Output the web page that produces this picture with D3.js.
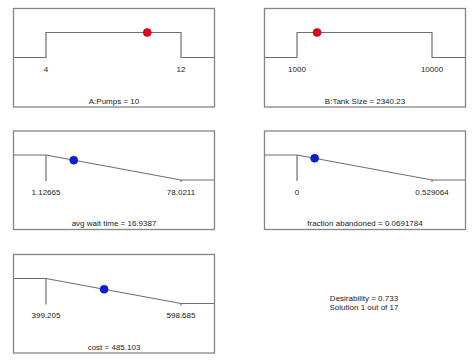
<!DOCTYPE html>
<html><head><meta charset="utf-8">
<script src="https://cdn.jsdelivr.net/npm/d3@7"></script>
<style>body{margin:0;background:#fff}svg{display:block}text{font-family:Arial,"Liberation Sans",sans-serif;font-size:8px;fill:#222}</style>
</head><body>
<script>
const names = ["A:Pumps", "B:Tank Size", "avg wait time", "fraction abandoned", "cost"];
const lows = [4, 1000, 1.12665, 0, 399.205];
const highs = [12, 10000, 78.0211, 0.529064, 598.685];
const lowLabels = ["4", "1000", "1.12665", "0", "399.205"];
const highLabels = ["12", "10000", "78.0211", "0.529064", "598.685"];
const values = [10, 2340.23, 16.9387, 0.0691784, 485.103];
const valueLabels = ["10", "2340.23", "16.9387", "0.0691784", "485.103"];
const goals = ["range", "range", "minimize", "minimize", "minimize"];
const summaryLines = ["Desirability = 0.733", "Solution 1 out of 17"];

const W = 474, H = 360;
const svg = d3.select("body").append("svg").attr("width", W).attr("height", H);

const boxLeft = [13, 264];
const boxTop = [8, 130.5, 254];
const boxW = 201, boxH = 98.5;

names.forEach((name, i) => {
  const bx = boxLeft[i % 2], by = boxTop[Math.floor(i / 2)];
  const g = svg.append("g");
  g.append("rect").attr("x", bx + 0.5).attr("y", by + 0.5).attr("width", boxW).attr("height", boxH)
    .attr("fill", "none").attr("stroke", "#858585").attr("stroke-width", 1.3);

  const x = d3.scaleLinear().domain([lows[i], highs[i]]).range([bx + 33, bx + 168]);
  const y = d3.scaleLinear().domain([0, 1]).range([by + 49.5, by + 24.5]);
  const left = bx + 0.5, right = bx + boxW + 0.5;
  let pts, d;
  if (goals[i] === "range") {
    pts = [[left, y(0)], [x(lows[i]), y(0)], [x(lows[i]), y(1)], [x(highs[i]), y(1)], [x(highs[i]), y(0)], [right, y(0)]];
    d = 1;
  } else {
    pts = [[left, y(1)], [x(lows[i]), y(1)], [x(highs[i]), y(0)], [right, y(0)]];
    d = (highs[i] - values[i]) / (highs[i] - lows[i]);
    // ticks
    g.append("line").attr("x1", x(lows[i])).attr("x2", x(lows[i])).attr("y1", y(1)).attr("y2", y(0) + 1)
      .attr("stroke", "#6f6f6f").attr("stroke-width", 1.2);
    g.append("line").attr("x1", x(highs[i])).attr("x2", x(highs[i])).attr("y1", y(0)).attr("y2", y(0) + 2)
      .attr("stroke", "#6f6f6f").attr("stroke-width", 1.2);
  }
  g.append("path").attr("d", d3.line()(pts)).attr("fill", "none").attr("stroke", "#6f6f6f").attr("stroke-width", 1.2);

  g.append("text").attr("x", x(lows[i])).attr("y", by + 64).attr("text-anchor", "middle").text(lowLabels[i]);
  g.append("text").attr("x", x(highs[i])).attr("y", by + 64).attr("text-anchor", "middle").text(highLabels[i]);
  g.append("text").attr("x", bx + boxW / 2 + 0.5).attr("y", by + 95.5).attr("text-anchor", "middle")
    .text(name + " = " + valueLabels[i]);

  g.append("circle").attr("cx", x(values[i])).attr("cy", y(d)).attr("r", 4)
    .attr("fill", goals[i] === "range" ? "#e5001b" : "#0a1fd6")
    .attr("stroke", goals[i] === "range" ? "#a00010" : "#00108a").attr("stroke-width", 0.5);
});

summaryLines.forEach((t, k) => {
  svg.append("text").attr("x", 364).attr("y", 301 + k * 9).attr("text-anchor", "middle").text(t);
});
</script>
</body></html>
